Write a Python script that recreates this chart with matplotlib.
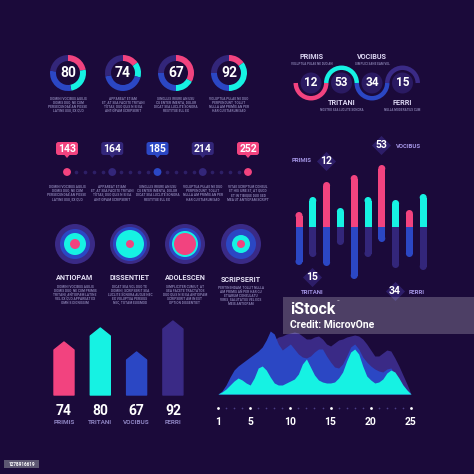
import numpy as np
import matplotlib
matplotlib.use('Agg')
import matplotlib.pyplot as plt
from matplotlib.patches import Circle, Arc, Polygon, Rectangle, FancyBboxPatch

plt.rcParams['font.family'] = ['Roboto', 'DejaVu Sans']

# ---- data ----
donut_values = [80, 74, 67, 92]
donut_pink = [0.22, 0.15, 0.33, 0.15]
donut_cyan = [0.25, 0.14, 0.17, 0.35]
donut_blue = [0.30, 0.43, 0.25, 0.25]
donut_rest = [0.23, 0.28, 0.25, 0.25]

timeline_values = [143, 164, 185, 214, 252]

target_names = ['ANTIOPAM', 'DISSENTIET', 'ADOLESCEN', 'SCRIPSERIT']
target_outer = [20, 20, 20, 20]
target_blue = [15, 17, 16, 15]
target_cyan = [11, 14, 13, 9]
target_pink = [5, 4, 11, 4]

wave_values = [12, 53, 34, 15]
wave_names = ['PRIMIS', 'TRITANI', 'VOCIBUS', 'FERRI']

bars_up = [15, 30, 45, 19, 52, 30, 62, 27, 17, 33]
bars_down = [38, 30, 39, 18, 52, 30, 15, 41, 30, 43]

arrow_values = [74, 80, 67, 92]
arrow_names = ['PRIMIS', 'TRITANI', 'VOCIBUS', 'FERRI']
arrow_heights = [53, 67, 43, 74]

area_x = np.arange(1, 25.5, 0.5)
area_back = [0, 2, 6, 12, 18, 22, 26, 29, 32, 35, 38, 42, 46, 50, 54, 57, 58, 60, 61, 62,
             61, 58, 55, 55, 57, 58, 55, 50, 48, 51, 54, 55, 57, 58, 59, 58, 55, 50, 44, 38,
             38, 41, 44, 43, 36, 28, 19, 10, 0]
area_mid = [0, 3, 9, 17, 24, 28, 31, 34, 37, 40, 43, 47, 54, 63, 60, 50, 44, 47, 50, 45,
            40, 37, 36, 38, 42, 45, 45, 38, 32, 27, 26, 30, 38, 47, 50, 45, 37, 32, 28, 25,
            23, 22, 25, 26, 20, 14, 9, 4, 0]
area_front = [0, 2, 5, 9, 13, 16, 14, 11, 9, 16, 26, 28, 24, 17, 11, 9, 9, 11, 13, 15,
              20, 30, 35, 27, 19, 14, 12, 11, 11, 12, 16, 22, 33, 42, 45, 40, 28, 18, 14, 11,
              12, 15, 21, 24, 22, 16, 9, 4, 0]
area_ticks = [1, 5, 10, 15, 20, 25]

donut_notes = [
    ['DOMINI VOCIBUS AGILIS', 'DOMIS DUO, NE CUM', 'PERSECUNDAE AN POSSE', 'LATINE USU, EX QUO'],
    ['APPAREAT ETIAM', 'ET, AT SEA FACETE TRITANI', 'TOTAS, DUO QUIS NISI EA', 'ANTIOPAM SCRIPSERIT'],
    ['SINGULIS IRIURE AN USU', 'CU ENTER IMENTA, DOLOR', 'DICAT SEA LUCLITE SONORA', 'RESTITUE EUL EX'],
    ['VOLUPTUA PULAE NE DUO', 'PERPENDUNT, TOLLIT', 'NULLA AM PRIMIS AN PER', 'HAR CU ETIARUM SAD'],
]
timeline_notes = [
    ['DOMINI VOCIBUS AGILIS', 'DOMIS DUO, NE CUM', 'PERSECUNDAE AN POSSE', 'LATINE USU, EX QUO'],
    ['APPAREAT ETIAM', 'ET, AT SEA FACETE TRITANI', 'TOTAS, DUO QUIS NISI EA', 'ANTIOPAM SCRIPSERIT'],
    ['SINGULIS IRIURE AN USU', 'CU ENTER IMENTA, DOLOR', 'DICAT SEA LUCLITE SONORA', 'RESTITUE EUL EX'],
    ['VOLUPTUA PULAE NE DUO', 'PERPENDUNT, TOLLIT', 'NULLA AM PRIMIS AN PER', 'HAR CU ETIARUM SAD'],
    ['VITAE SCRIPTUM CONSUL', 'ET HIS IURE ST, AT QUOD', 'ET IN TIBIQUE DUO SED', 'MEA UT ANTIOPAM SCRIPT'],
]
target_notes = [
    ['DOMINI VOCIBUS AGILIS', 'DOMIS DUO, NE CUM PRIMIS', 'TRITANI, ANTIOPAM LATINE', 'VEL EX QUO APPAREAT EX', 'OMNIS DIGNISSIM'],
    ['DICAT SEA VOL DUO TE', 'DOMINI, SCRIPSERIT SEA', 'LUCLITE SONORA AUGUE NEC', 'EX VOLUPTUA PERSIUS', 'NEC, TOTAM EUISMOD'],
    ['SIMPLICITER CUM UT, AT', 'SEA FACETE TRACTATOS', 'DUO QUIS NISI EA ANTIOPAM', 'SCRIPSERIT AM IN EST', 'OPTION DISSENTIET'],
    ['PERTINENDAM, TOLLIT NULLA', 'AM PRIMIS AN PER HAR CU', 'ETIARUM CONSULATU', 'VIRIS, SALUTATUS VEL EOS', 'MEIS ANTIOPAM'],
]
wave_notes = ['VOLUPTUA PULAE NE DUO AN', 'SIMPLICI SANE EAM VEL', 'NOSTRO SEA LUCLITE SONORA', 'NULLA MODERATIUS CUM']

# ---- style ----
BG = '#1b0a3a'
PINK = '#f2437f'
CYAN = '#16f2e3'
BLUE = '#2b47c4'
PURPLE = '#3a2a86'
DPURPLE = '#33267a'
DIM = '#2d1f66'
NOTE = '#857dad'

W = H = 474
fig = plt.figure(figsize=(4.74, 4.74), dpi=100, facecolor=BG)


def px_axes(x0, y0, x1, y1, zorder=1):
    ax = fig.add_axes([x0 / W, 1 - y1 / H, (x1 - x0) / W, (y1 - y0) / H], zorder=zorder)
    ax.set_axis_off()
    ax.patch.set_visible(False)
    return ax


# donuts
donut_cx = [68, 123, 176, 229]
for i, v in enumerate(donut_values):
    cx = donut_cx[i]
    ax = px_axes(cx - 20, 53, cx + 20, 93)
    ax.pie([donut_pink[i], donut_cyan[i], donut_blue[i], donut_rest[i]],
           colors=[PINK, CYAN, BLUE, DPURPLE], startangle=90, counterclock=False,
           radius=0.9, wedgeprops=dict(width=0.3, linewidth=0))
    ax.set_xlim(-1, 1)
    ax.set_ylim(-1, 1)
    ax.text(0, 0, str(v), ha='center', va='center', color='white', fontsize=10, fontweight='bold')

# timeline
ax = px_axes(50, 136, 265, 180)
ax.set_xlim(50, 265)
ax.set_ylim(180, 136)
tl_x = [67 + i * 45.25 for i in range(len(timeline_values))]
tl_col = [PINK, DPURPLE, BLUE, DPURPLE, PINK]
small = [x + k * 9.05 for x in tl_x[:-1] for k in range(1, 5)]
ax.scatter(small, [172] * len(small), s=7, color=DIM, linewidths=0)
ax.scatter(tl_x, [172] * len(tl_x), s=32, color=tl_col, linewidths=0, zorder=3)
for x, v, c in zip(tl_x, timeline_values, tl_col):
    ax.add_patch(FancyBboxPatch((x - 11, 142), 22, 13, boxstyle='round,pad=0,rounding_size=2.5',
                                fc=c, ec='none'))
    ax.add_patch(Polygon([(x - 3, 154.5), (x + 3, 154.5), (x, 158)], closed=True, fc=c, ec='none'))
    ax.text(x, 148.5, str(v), ha='center', va='center', color='white', fontsize=7.5, fontweight='bold')

# concentric targets
tg_cx = [75, 130, 185, 241]
for i in range(len(target_names)):
    ax = px_axes(tg_cx[i] - 22, 222, tg_cx[i] + 22, 266)
    ax.set_xlim(-22, 22)
    ax.set_ylim(-22, 22)
    for r, c in zip([target_outer[i], target_blue[i], target_cyan[i], target_pink[i]],
                    [PURPLE, BLUE, CYAN, PINK]):
        ax.add_patch(Circle((0, 0), r, fc=c, ec='none'))

# arrow bars
ax = px_axes(40, 310, 200, 400)
ax.set_xlim(40, 200)
ax.set_ylim(-5, 85)
ar_col = [PINK, CYAN, BLUE, PURPLE]
for i, h in enumerate(arrow_heights):
    x = 64 + i * 36.3
    ax.add_patch(Polygon([(x - 10, 0), (x - 10, h - 8), (x, h), (x + 10, h - 8), (x + 10, 0)],
                         closed=True, fc=ar_col[i], ec=ar_col[i], lw=1, joinstyle='round'))

# semicircle wave
ax = px_axes(290, 62, 425, 104)
ax.set_xlim(290, 425)
ax.set_ylim(-21, 21)
wv_cx = [311, 341.5, 372, 402.5]
wv_col = [PINK, CYAN, BLUE, PURPLE]
for i, v in enumerate(wave_values):
    cx = wv_cx[i]
    if i % 2 == 0:
        ax.add_patch(Arc((cx, 0), 30.5, 30.5, theta1=180, theta2=360, color=wv_col[i], lw=3.2))
    else:
        ax.add_patch(Arc((cx, 0), 30.5, 30.5, theta1=0, theta2=180, color=wv_col[i], lw=3.2))
    ax.add_patch(Circle((cx, 0), 10.5, fc='#2a1a62', ec='none'))
    ax.text(cx, 0, str(v), ha='center', va='center', color='white', fontsize=8.5, fontweight='bold')

# diverging bars
ax = px_axes(285, 130, 440, 300)
ax.set_xlim(285, 440)
ax.set_ylim(-73, 97)
for i in range(len(bars_up)):
    x = 299 + i * 13.8
    cu = PINK if i % 2 == 0 else CYAN
    cd = BLUE if i % 2 == 0 else DPURPLE
    ax.bar(x, bars_up[i] - 3.5, width=7, color=cu, linewidth=0)
    ax.add_patch(Circle((x, bars_up[i] - 3.5), 3.5, fc=cu, ec='none'))
    ax.bar(x, -(bars_down[i] - 3.5), width=7, color=cd, linewidth=0)
    ax.add_patch(Circle((x, -(bars_down[i] - 3.5)), 3.5, fc=cd, ec='none'))

# area chart
ax = px_axes(210, 318, 430, 432)
ax.set_xlim(1 + (210 - 218) / 8.04, 1 + (430 - 218) / 8.04)
ax.set_ylim(-38, 76)
ax.fill_between(area_x, 0, area_back, color=PURPLE, linewidth=0)
ax.fill_between(area_x, 0, area_mid, color=BLUE, linewidth=0)
ax.fill_between(area_x, 0, area_front, color=CYAN, linewidth=0)
units = np.arange(1, 26)
minor = [u for u in units if u not in area_ticks]
ax.scatter(minor, [-14] * len(minor), s=1.5, color='#4b3f85', linewidths=0)
ax.scatter(area_ticks, [-14] * len(area_ticks), s=4, color='white', linewidths=0)
for u in area_ticks:
    ax.text(u, -28, str(u), ha='center', va='center', color='white', fontsize=7.5, fontweight='bold')

# overlay texts
over = px_axes(0, 0, 474, 474, zorder=10)
over.set_xlim(0, 474)
over.set_ylim(474, 0)


def notes(x, y0, lines, step=4.2):
    for k, line in enumerate(lines):
        over.text(x, y0 + k * step, line, ha='center', va='center', fontsize=2.3,
                  color=NOTE, fontweight='bold')


for i in range(4):
    notes(donut_cx[i], 98.5, donut_notes[i])
for i in range(5):
    notes(tl_x[i], 187, timeline_notes[i])
for i in range(4):
    over.text(tg_cx[i], 278 if i < 3 else 280, target_names[i], ha='center', va='center',
              fontsize=5.2, color='#e4e0f4', fontweight='bold')
    notes(tg_cx[i], 286.5 if i < 3 else 288, target_notes[i], step=4.0)

for i in range(4):
    x = 64 + i * 36.3
    over.text(x, 411, str(arrow_values[i]), ha='center', va='center', color='white',
              fontsize=10, fontweight='bold')
    over.text(x, 423, arrow_names[i], ha='center', va='center', color='#8e84c2',
              fontsize=4.6, fontweight='bold')

# wave labels
wl = [(312, 57, 'PRIMIS'), (372, 57, 'VOCIBUS'), (342, 103, 'TRITANI'), (402, 103, 'FERRI')]
for k, (x, y, s) in enumerate(wl):
    over.text(x, y, s, ha='center', va='center', color='#dcd6f2', fontsize=5.2, fontweight='bold')
    over.text(x, y + 7, wave_notes[k], ha='center', va='center', color=NOTE, fontsize=2.2,
              fontweight='bold')

# diverging bar annotations
over.scatter([326, 381, 312, 395], [161, 145, 277, 291], marker='D', s=95, color='#2d1d68',
             linewidths=0)
for x, y, v in [(326, 161, 12), (381, 145, 53), (312, 277, 15), (395, 291, 34)]:
    over.text(x, y, str(v), ha='center', va='center', color='white', fontsize=7.5, fontweight='bold')
over.text(302, 160, 'PRIMIS', ha='center', va='center', color='#a394e4', fontsize=4.3, fontweight='bold')
over.text(409, 146, 'VOCIBUS', ha='center', va='center', color='#a394e4', fontsize=4.3, fontweight='bold')
over.text(312, 293, 'TRITANI', ha='center', va='center', color='#a394e4', fontsize=4.3, fontweight='bold')
over.text(417, 292, 'FERRI', ha='center', va='center', color='#a394e4', fontsize=4.3, fontweight='bold')

# stock watermark
over.add_patch(Rectangle((283, 297), 191, 37, fc='white', alpha=0.22, ec='none'))
over.text(290, 310, 'iStock', ha='left', va='center', color='white', fontsize=11.5, fontweight='bold')
over.text(337, 302, '\u2122', ha='left', va='center', color='white', fontsize=3)
over.text(290, 325.5, 'Credit: MicrovOne', ha='left', va='center', color='white', fontsize=7.5,
          fontweight='bold')
over.add_patch(Rectangle((4, 460), 35, 8, fc='#5d5772', ec='none'))
over.text(21.5, 464, '1278916619', ha='center', va='center', color='white', fontsize=3.3,
          fontweight='bold')

fig.savefig('out.png', dpi=100, facecolor=BG)
